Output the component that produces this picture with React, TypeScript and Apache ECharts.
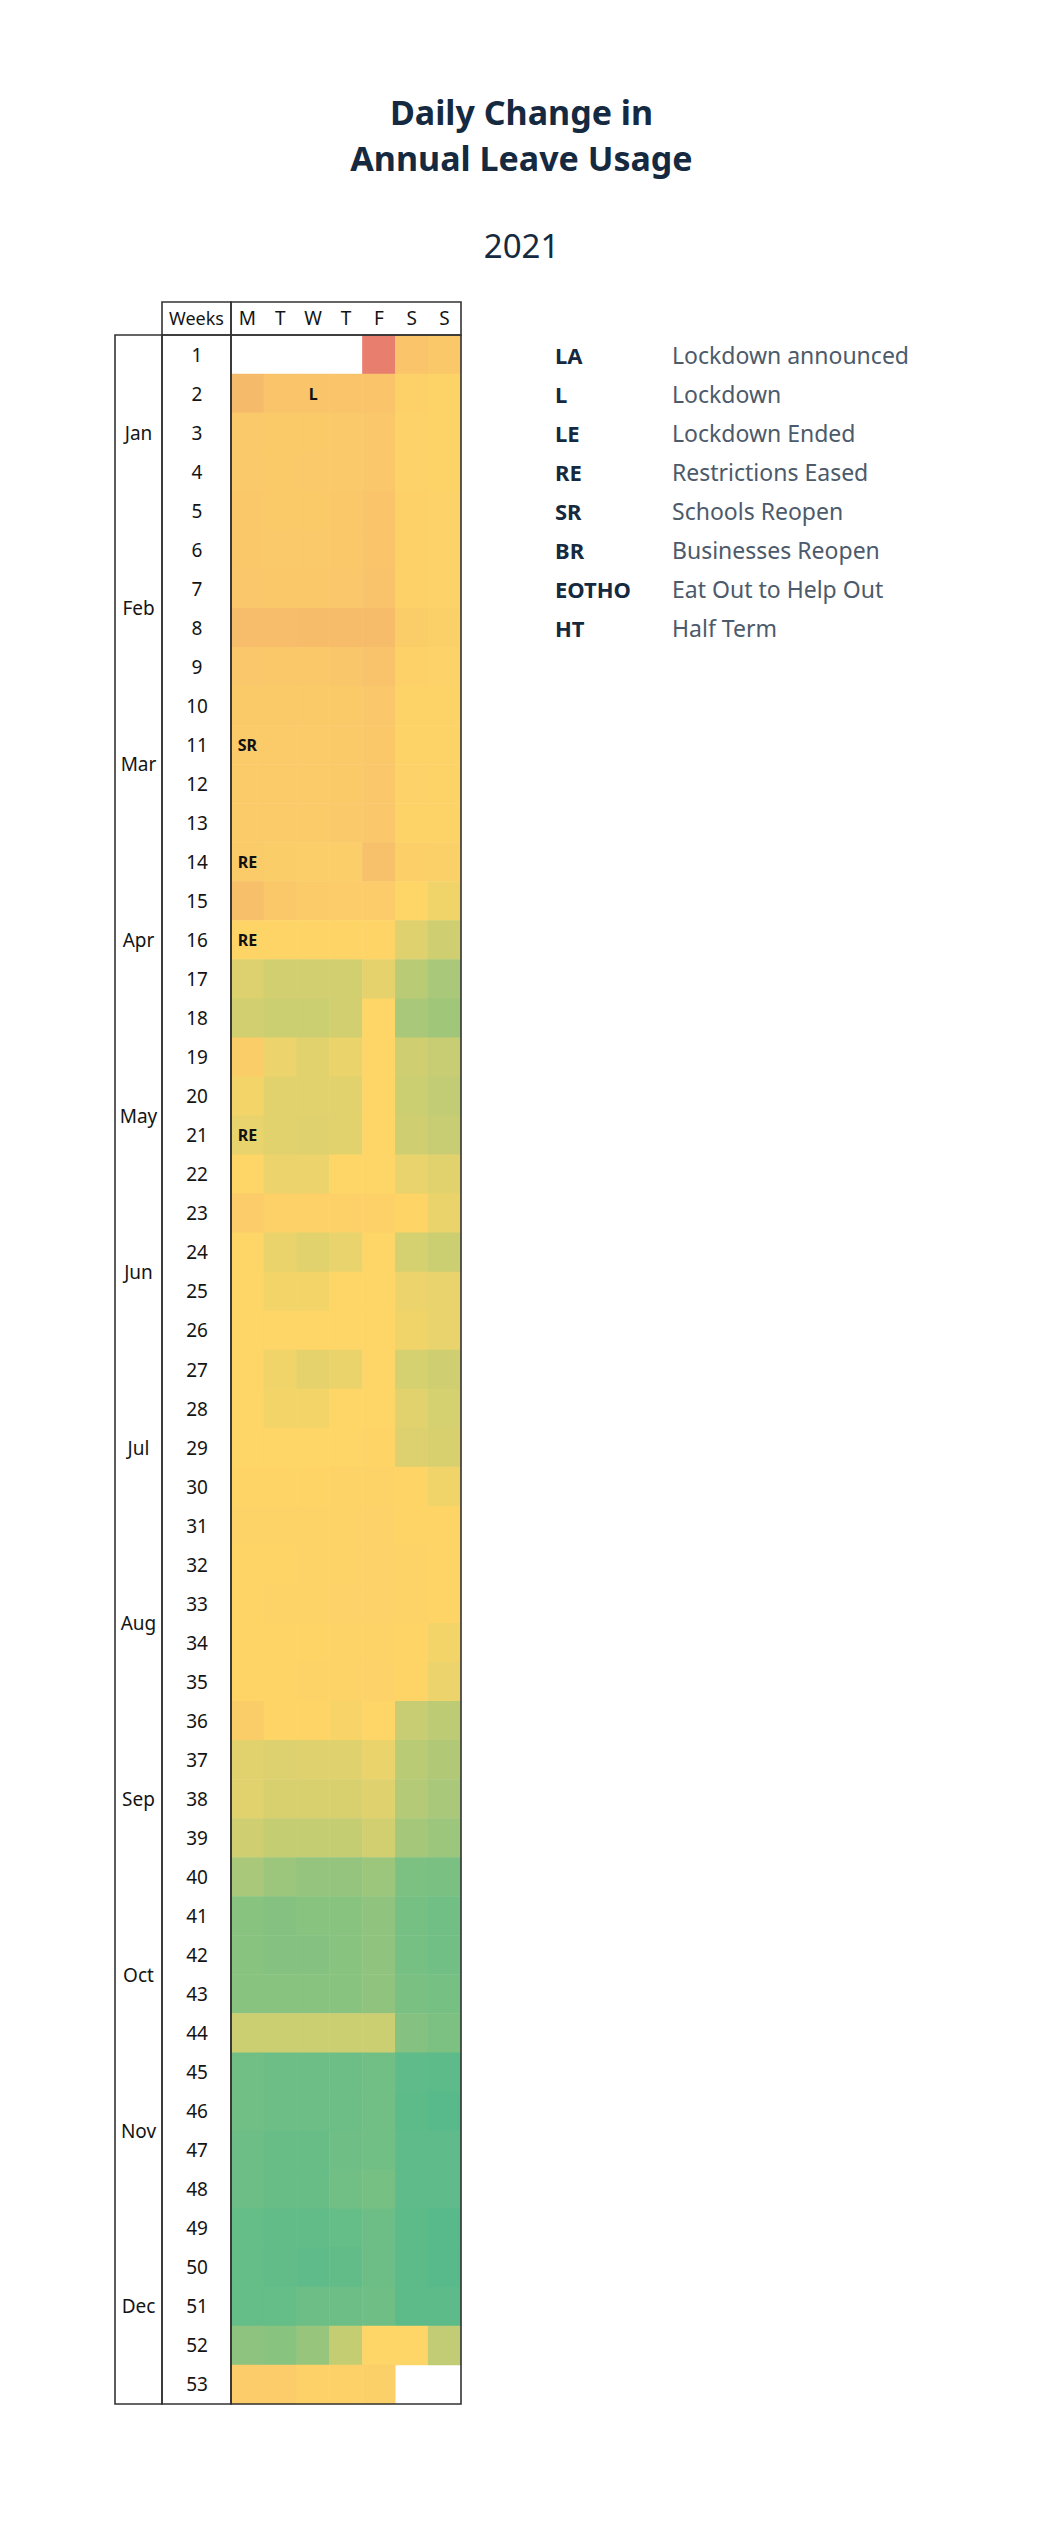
import React, { useEffect, useRef } from 'react';
import * as echarts from 'echarts';

const TITLE_LINES = ['Daily Change in', 'Annual Leave Usage'];
const YEAR = '2021';
const DAYS = ['M', 'T', 'W', 'T', 'F', 'S', 'S'];
const WEEKS_HEADER = 'Weeks';

// value scale 0..100: 0 = strong fall (red), 50 = neutral (yellow), 100 = strong rise (green)
const WEEK_VALUES: (number | null)[][] = [
  [null, null, null, null, 2, 32, 36],
  [23, 32, 32, 32, 32, 46, 48],
  [37, 38, 38, 37, 35, 47, 48],
  [37, 38, 37, 37, 35, 47, 48],
  [36, 38, 38, 36, 32, 46, 47],
  [36, 37, 37, 36, 32, 46, 47],
  [35, 36, 36, 35, 31, 46, 47],
  [25, 25, 24, 24, 24, 41, 44],
  [35, 36, 36, 34, 31, 46, 47],
  [38, 38, 38, 38, 35, 48, 48],
  [39, 39, 39, 38, 36, 48, 48],
  [39, 39, 39, 38, 35, 47, 48],
  [39, 39, 39, 37, 35, 48, 48],
  [39, 41, 42, 42, 28, 43, 44],
  [27, 36, 39, 40, 40, 50, 55],
  [49, 49, 49, 49, 49, 61, 66],
  [62, 65, 65, 65, 59, 72, 76],
  [65, 67, 67, 65, 50, 76, 78],
  [41, 56, 60, 57, 50, 66, 68],
  [54, 60, 60, 60, 50, 67, 70],
  [58, 60, 61, 60, 50, 66, 68],
  [50, 56, 56, 50, 50, 58, 60],
  [40, 46, 46, 46, 45, 49, 57],
  [50, 57, 60, 58, 50, 64, 67],
  [50, 54, 54, 50, 50, 56, 58],
  [50, 50, 50, 50, 50, 55, 58],
  [50, 55, 59, 57, 50, 64, 66],
  [50, 54, 54, 50, 50, 60, 64],
  [50, 50, 50, 50, 49, 62, 63],
  [49, 49, 49, 48, 48, 49, 55],
  [48, 48, 48, 48, 47, 49, 49],
  [49, 49, 48, 48, 47, 48, 49],
  [49, 48, 48, 47, 47, 48, 49],
  [49, 49, 49, 48, 48, 49, 54],
  [49, 49, 48, 48, 47, 49, 56],
  [41, 49, 49, 52, 50, 68, 71],
  [60, 62, 61, 61, 57, 72, 74],
  [60, 63, 63, 63, 61, 73, 76],
  [66, 69, 69, 69, 65, 77, 79],
  [76, 79, 81, 81, 79, 87, 88],
  [84, 85, 84, 84, 82, 89, 90],
  [84, 85, 85, 84, 82, 89, 90],
  [84, 84, 84, 84, 82, 88, 89],
  [67, 67, 67, 67, 67, 85, 87],
  [90, 92, 92, 92, 90, 96, 97],
  [90, 92, 92, 92, 90, 97, 98],
  [92, 93, 93, 91, 90, 96, 96],
  [92, 93, 93, 90, 89, 96, 96],
  [94, 95, 95, 94, 92, 97, 98],
  [94, 95, 96, 95, 92, 97, 98],
  [94, 94, 92, 92, 91, 97, 97],
  [83, 84, 80, 69, 50, 50, 70],
  [40, 40, 45, 45, 44, null, null],
];

const WEEK_LABELS = WEEK_VALUES.map((_, i) => String(i + 1));

const MONTHS = ['Jan', 'Feb', 'Mar', 'Apr', 'May', 'Jun', 'Jul', 'Aug', 'Sep', 'Oct', 'Nov', 'Dec'];
const MONTH_MID_WEEK = [3, 7.5, 11.5, 16, 20.5, 24.5, 29, 33.5, 38, 42.5, 46.5, 51];

const ANN_WEEK = [2, 11, 14, 16, 21];
const ANN_DAY = [2, 0, 0, 0, 0];
const ANN_TEXT = ['L', 'SR', 'RE', 'RE', 'RE'];

const LEGEND_ABBR = ['LA', 'L', 'LE', 'RE', 'SR', 'BR', 'EOTHO', 'HT'];
const LEGEND_DESC = [
  'Lockdown announced',
  'Lockdown',
  'Lockdown Ended',
  'Restrictions Eased',
  'Schools Reopen',
  'Businesses Reopen',
  'Eat Out to Help Out',
  'Half Term',
];

const COLOR_STOPS = [
  '#e5766f', '#eea06c', '#f5b86a', '#f8c26a', '#fbcc69', '#fed567',
  '#e2d26d', '#c2cc74', '#98c57c', '#72bf85', '#52b98b',
];

const FONT = 'Noto Sans';
const NAVY = '#152a40';
const INK = '#141414';
const LINE = '#333333';

export default function App() {
  const ref = useRef<HTMLDivElement>(null);

  useEffect(() => {
    if (!ref.current) return;
    const chart = echarts.init(ref.current, undefined, { renderer: 'svg' });

    const nWeeks = WEEK_VALUES.length;
    const heatTop = 335;
    const heatH = 2069;
    const rowH = heatH / nWeeks;

    const annKey = (w: number, d: number) => `${w}-${d}`;
    const annMap: Record<string, string> = {};
    ANN_WEEK.forEach((w, i) => {
      annMap[annKey(w - 1, ANN_DAY[i])] = ANN_TEXT[i];
    });

    const data: any[] = [];
    WEEK_VALUES.forEach((row, w) => {
      row.forEach((v, d) => {
        if (v === null) return;
        data.push({ value: [d, w, v] });
      });
    });

    const border = { show: true, borderColor: LINE, borderWidth: 1.6, backgroundColor: 'transparent', z: 5 };
    const hiddenVal = (gridIndex: number) => ({ gridIndex, type: 'value', show: false });
    const plainAxis = { axisLine: { show: false }, axisTick: { show: false }, splitLine: { show: false } };

    const option: any = {
      animation: false,
      backgroundColor: '#ffffff',
      title: [
        {
          text: TITLE_LINES.join('\n'),
          left: 'center',
          top: 84,
          textStyle: { fontFamily: FONT, fontSize: 34, fontWeight: 'bold', color: NAVY, lineHeight: 46 },
        },
        {
          text: YEAR,
          left: 'center',
          top: 217,
          textStyle: { fontFamily: FONT, fontSize: 33, fontWeight: 'normal', color: NAVY, lineHeight: 46 },
        },
      ],
      grid: [
        { left: 231, top: heatTop, width: 230, height: heatH, ...border },
        { left: 162, top: heatTop, width: 69, height: heatH, ...border },
        { left: 115, top: heatTop, width: 47, height: heatH, ...border },
        { left: 162, top: 302, width: 69, height: 33, ...border },
        { left: 231, top: 302, width: 230, height: 33, ...border },
        { left: 555, top: heatTop, width: 440, height: rowH * LEGEND_ABBR.length, show: false },
      ],
      xAxis: [
        {
          gridIndex: 0,
          type: 'category',
          data: DAYS,
          position: 'top',
          ...plainAxis,
          axisLabel: { fontFamily: FONT, fontSize: 19, color: INK, margin: 17, verticalAlign: 'middle', interval: 0 },
        },
        {
          gridIndex: 1,
          type: 'category',
          data: [WEEKS_HEADER],
          position: 'top',
          ...plainAxis,
          axisLabel: { fontFamily: FONT, fontSize: 18, color: INK, margin: 17, verticalAlign: 'middle', interval: 0 },
        },
        hiddenVal(2),
        hiddenVal(3),
        hiddenVal(4),
        hiddenVal(5),
      ],
      yAxis: [
        {
          gridIndex: 0,
          type: 'category',
          data: WEEK_LABELS,
          inverse: true,
          ...plainAxis,
          axisLabel: { fontFamily: FONT, fontSize: 19, color: INK, margin: 34, align: 'center', interval: 0 },
        },
        hiddenVal(1),
        {
          gridIndex: 2,
          type: 'value',
          min: 0,
          max: nWeeks,
          interval: 0.5,
          inverse: true,
          ...plainAxis,
          axisLabel: {
            inside: true,
            align: 'center',
            margin: 23.5,
            fontFamily: FONT,
            fontSize: 19,
            color: INK,
            showMinLabel: true,
            showMaxLabel: true,
            formatter: (v: number) => {
              const i = MONTH_MID_WEEK.findIndex((m) => Math.abs(m - 0.5 - v) < 1e-6);
              return i >= 0 ? MONTHS[i] : '';
            },
          },
        },
        hiddenVal(3),
        hiddenVal(4),
        {
          gridIndex: 5,
          type: 'category',
          data: LEGEND_ABBR,
          inverse: true,
          position: 'left',
          ...plainAxis,
          axisLabel: { inside: true, align: 'left', margin: 0, fontFamily: FONT, fontSize: 22, fontWeight: 'bold', color: NAVY, interval: 0 },
        },
        {
          gridIndex: 5,
          type: 'category',
          data: LEGEND_DESC,
          inverse: true,
          position: 'left',
          offset: 0,
          ...plainAxis,
          axisLabel: { inside: true, align: 'left', margin: 117, fontFamily: FONT, fontSize: 23, color: '#4c5a6a', interval: 0 },
        },
      ],
      visualMap: {
        type: 'continuous',
        show: false,
        min: 0,
        max: 100,
        dimension: 2,
        seriesIndex: 0,
        inRange: { color: COLOR_STOPS },
      },
      series: [
        {
          type: 'heatmap',
          xAxisIndex: 0,
          yAxisIndex: 0,
          data,
          itemStyle: { borderWidth: 0 },
          emphasis: { disabled: true },
          label: {
            show: true,
            fontFamily: FONT,
            fontSize: 16,
            fontWeight: 'bold',
            color: '#111111',
            formatter: (p: any) => annMap[annKey(p.value[1], p.value[0])] || '',
          },
        },
      ],
    };

    chart.setOption(option);
    return () => chart.dispose();
  }, []);

  return (
    <div
      ref={ref}
      style={{ position: 'absolute', left: 0, top: 0, width: 1043, height: 2542, background: '#ffffff' }}
    />
  );
}
